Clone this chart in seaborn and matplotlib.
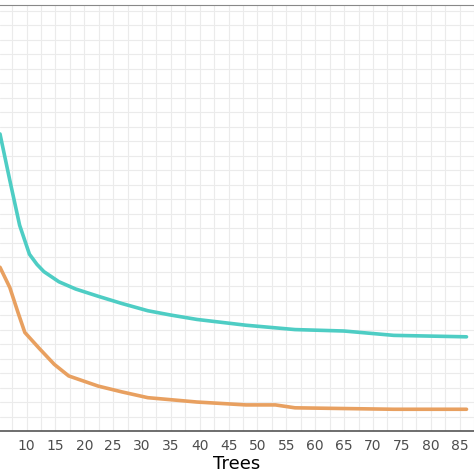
import numpy as np
import pandas as pd
import seaborn as sns
import matplotlib
matplotlib.use("Agg")
import matplotlib.pyplot as plt

trees = [5.4, 7.1, 8.8, 10.5, 11.8, 13.0, 15.6, 18.5, 22.4, 26.5, 31.0, 35.0, 39.5, 48.0, 56.5, 65.0, 73.6, 86.2]
series_a = [20.5, 17.3, 14.2, 12.2, 11.5, 11.0, 10.3, 9.8, 9.3, 8.8, 8.3, 8.0, 7.7, 7.3, 7.0, 6.9, 6.6, 6.5]
trees_b = [5.4, 7.1, 8.5, 9.7, 12.2, 14.8, 17.3, 22.4, 26.5, 31.0, 39.5, 48.0, 53.1, 56.5, 73.6, 86.2]
series_b = [11.3, 9.9, 8.2, 6.8, 5.7, 4.6, 3.8, 3.1, 2.7, 2.3, 2.0, 1.8, 1.8, 1.6, 1.5, 1.5]

sns.set_style("white")
fig = plt.figure(figsize=(4.74, 4.74), dpi=100)
ax = fig.add_axes([0, 43/474, 1, 426/474])
sns.lineplot(x=trees, y=series_a, ax=ax, color="#4ecdc4", lw=2.6)
sns.lineplot(x=trees_b, y=series_b, ax=ax, color="#e8a060", lw=2.6)
ax.set_xlim(5.4, 86.2)
ax.set_ylim(0, 29.4)
ax.set_xticks(np.arange(10, 90, 5))
ax.set_xticks(np.arange(7.5, 90, 2.5), minor=True)
ax.set_yticks(np.arange(0, 30, 1), minor=True)
ax.grid(True, which="both", color="#ebebeb", lw=0.8)
ax.tick_params(axis="x", labelsize=10, colors="#4d4d4d", length=0, pad=6, labelcolor="#4d4d4d")
ax.tick_params(axis="y", which="both", left=False, labelleft=False)
ax.tick_params(which="minor", length=0)
ax.set_xlabel("Trees", fontsize=13, color="black", labelpad=1)
for s in ["left", "right"]:
    ax.spines[s].set_visible(False)
ax.spines["top"].set_color("#888888")
ax.spines["bottom"].set_color("#555555")
ax.spines["bottom"].set_linewidth(1.2)
fig.savefig("out.png", dpi=100)
